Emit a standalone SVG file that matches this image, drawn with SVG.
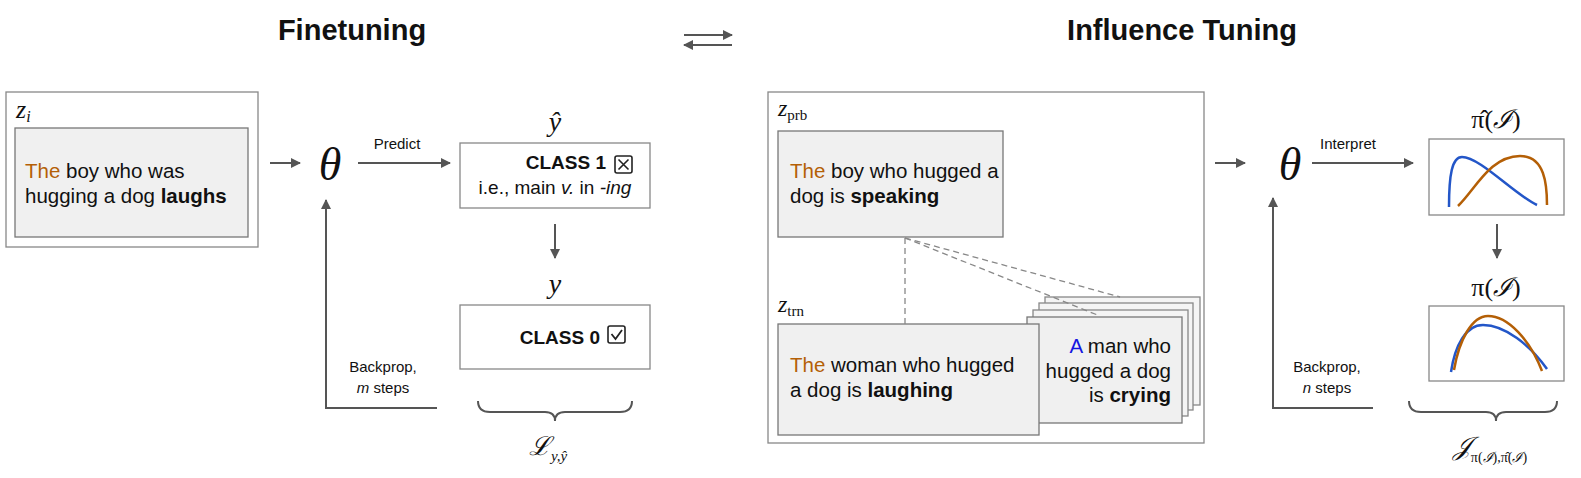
<svg xmlns="http://www.w3.org/2000/svg" width="1581" height="478" viewBox="0 0 1581 478">
<defs>
<marker id="ah" markerWidth="10" markerHeight="10" refX="9" refY="5" orient="auto" markerUnits="userSpaceOnUse"><path d="M0,0 L10,5 L0,10 z" fill="#555"/></marker>
<style>
.box{fill:#fff;stroke:#888;stroke-width:1.3}
.gbox{fill:#f0f0f0;stroke:#777;stroke-width:1.3}
.card{fill:#f4f4f4;stroke:#888;stroke-width:1.3}
.t{font-family:"Liberation Sans",Arial,sans-serif;font-size:20.5px;fill:#111}
.c{font-family:"Liberation Sans",Arial,sans-serif;font-size:19px;fill:#111}
.s{font-family:"Liberation Sans",Arial,sans-serif;font-size:15px;fill:#111}
.m{font-family:"Liberation Serif","DejaVu Serif",serif;font-style:italic;fill:#111}
.title{font-family:"Liberation Sans",Arial,sans-serif;font-size:29px;font-weight:bold;fill:#111}
.ln{stroke:#555;stroke-width:2;fill:none}
.br{fill:#b45f06}
.dash{stroke:#888;stroke-width:1.3;stroke-dasharray:6,4;fill:none}
</style>
</defs>
<text class="title" x="352" y="40" text-anchor="middle">Finetuning</text>
<text class="title" x="1182" y="40" text-anchor="middle">Influence Tuning</text>
<g id="swap" class="ln"><line x1="684" y1="35" x2="732" y2="35" marker-end="url(#ah)"/><line x1="732" y1="45" x2="684" y2="45" marker-end="url(#ah)"/></g>

<g id="zi">
<rect class="box" x="6" y="92" width="252" height="155"/>
<text class="m" x="16" y="118" font-size="26">z<tspan font-size="16" dy="4">i</tspan></text>
<rect class="gbox" x="15" y="128" width="233" height="109"/>
<text class="t" x="25" y="178"><tspan class="br">The</tspan> boy who was</text>
<text class="t" x="25" y="203">hugging a dog <tspan font-weight="bold">laughs</tspan></text>
</g>
<g id="theta1"><text class="m" x="330" y="180" font-size="46" text-anchor="middle">θ</text></g>
<g id="yhat">
<text class="m" x="555" y="131" font-size="28" text-anchor="middle">ŷ</text>
<rect class="box" x="460" y="143" width="190" height="65"/>
<text class="c" x="606" y="169" text-anchor="end" font-weight="bold">CLASS 1</text>
<rect x="615" y="156" width="17" height="17" rx="2" fill="none" stroke="#222" stroke-width="1.6"/>
<path d="M618.5,159.5 L628.5,169.5 M628.5,159.5 L618.5,169.5" stroke="#222" stroke-width="1.6"/>
<text class="c" x="555" y="194" text-anchor="middle">i.e., main <tspan font-style="italic">v.</tspan> in <tspan font-style="italic">-ing</tspan></text>
</g>
<g id="y">
<text class="m" x="555" y="293" font-size="28" text-anchor="middle">y</text>
<rect class="box" x="460" y="305" width="190" height="64"/>
<text class="c" x="600" y="344" text-anchor="end" font-weight="bold">CLASS 0</text>
<rect x="608" y="326" width="17" height="17" rx="2" fill="none" stroke="#222" stroke-width="1.6"/>
<path d="M611.5,334 L615.5,339 L622,330" stroke="#222" stroke-width="1.8" fill="none"/>
</g>
<g id="loss">
<path class="ln" d="M478,401 Q478,412 490,412 L545,412 Q555,412 555,421 Q555,412 565,412 L620,412 Q632,412 632,401" stroke-width="1.6"/>
<text class="m" x="548" y="455" font-size="26" text-anchor="middle">ℒ<tspan font-size="15" dy="6">y,ŷ</tspan></text>
</g>

<g id="zprbOuter">
<rect class="box" x="768" y="92" width="436" height="351"/>
<text class="m" x="778" y="116" font-size="24">z<tspan font-style="normal" font-size="15" dy="4">prb</tspan></text>
<text class="m" x="778" y="312" font-size="24">z<tspan font-style="normal" font-size="15" dy="4">trn</tspan></text>
</g>
<g id="stack">
<rect class="card" x="1045" y="297" width="155" height="108"/>
<rect class="card" x="1039" y="303" width="154" height="107"/>
<rect class="card" x="1033" y="310" width="155" height="106"/>
<rect class="gbox" x="1027" y="317" width="155" height="106"/>
<text class="t" x="1171" y="353" text-anchor="end"><tspan fill="#1515e0">A</tspan> man who</text>
<text class="t" x="1171" y="378" text-anchor="end">hugged a dog</text>
<text class="t" x="1171" y="402" text-anchor="end">is <tspan font-weight="bold">crying</tspan></text>
</g>
<g id="zprb">
<rect class="gbox" x="778" y="131" width="225" height="106"/>
<text class="t" x="790" y="178"><tspan class="br">The</tspan> boy who hugged a</text>
<text class="t" x="790" y="203">dog is <tspan font-weight="bold">speaking</tspan></text>
</g>
<g id="ztrn">
<rect class="gbox" x="778" y="324" width="261" height="111"/>
<text class="t" x="790" y="372"><tspan class="br">The</tspan> woman who hugged</text>
<text class="t" x="790" y="397">a dog is <tspan font-weight="bold">laughing</tspan></text>
</g>
<g id="dashes">
<line class="dash" x1="905" y1="238" x2="905" y2="324"/>
<line class="dash" x1="905" y1="238" x2="1100" y2="316"/>
<line class="dash" x1="905" y1="238" x2="1120" y2="297"/>
</g>
<g id="theta2"><text class="m" x="1290" y="180" font-size="46" text-anchor="middle">θ</text></g>
<g id="pihat">
<text class="m" x="1496" y="128" font-size="26" text-anchor="middle"><tspan font-style="normal">π̂</tspan><tspan font-style="normal">(</tspan>ℐ<tspan font-style="normal">)</tspan></text>
<rect class="box" x="1429" y="139" width="135" height="76"/>
<path d="M1449,207 C1449,175 1452,157 1462,157 C1480,157 1515,195 1537,205" fill="none" stroke="#2356c8" stroke-width="2.5"/>
<path d="M1458,206 C1475,190 1490,156 1520,156 C1545,156 1547,185 1547,205" fill="none" stroke="#b45f06" stroke-width="2.5"/>
</g>
<g id="pi">
<text class="m" x="1496" y="296" font-size="26" text-anchor="middle"><tspan font-style="normal">π(</tspan>ℐ<tspan font-style="normal">)</tspan></text>
<rect class="box" x="1429" y="306" width="135" height="75"/>
<path d="M1451,372 C1455,345 1466,325 1483,325 C1505,325 1530,345 1547,369" fill="none" stroke="#2356c8" stroke-width="2.5"/>
<path d="M1454,370 C1459,340 1472,316 1488,316 C1508,316 1530,340 1542,371" fill="none" stroke="#b45f06" stroke-width="2.5"/>
</g>
<g id="obj">
<path class="ln" d="M1409,401 Q1409,412 1421,412 L1486,412 Q1496,412 1496,421 Q1496,412 1506,412 L1545,412 Q1557,412 1557,401" stroke-width="1.6"/>
<text class="m" x="1490" y="455" font-size="26" text-anchor="middle">𝒥<tspan font-size="14" dy="7"><tspan font-style="normal">π(</tspan>ℐ<tspan font-style="normal">),π̂(</tspan>ℐ<tspan font-style="normal">)</tspan></tspan></text>
</g>

<g id="connectors">
<line class="ln" x1="270" y1="163" x2="300" y2="163" marker-end="url(#ah)"/>
<line class="ln" x1="358" y1="163" x2="450" y2="163" marker-end="url(#ah)"/>
<text class="s" x="397" y="149" text-anchor="middle">Predict</text>
<line class="ln" x1="555" y1="224" x2="555" y2="258" marker-end="url(#ah)"/>
<polyline class="ln" points="437,408 326,408 326,200" marker-end="url(#ah)"/>
<text class="s" x="383" y="372" text-anchor="middle">Backprop,</text>
<text class="s" x="383" y="393" text-anchor="middle"><tspan font-style="italic">m</tspan> steps</text>
<line class="ln" x1="1215" y1="163" x2="1245" y2="163" marker-end="url(#ah)"/>
<line class="ln" x1="1312" y1="163" x2="1413" y2="163" marker-end="url(#ah)"/>
<text class="s" x="1348" y="149" text-anchor="middle">Interpret</text>
<line class="ln" x1="1497" y1="224" x2="1497" y2="258" marker-end="url(#ah)"/>
<polyline class="ln" points="1373,408 1273,408 1273,198" marker-end="url(#ah)"/>
<text class="s" x="1327" y="372" text-anchor="middle">Backprop,</text>
<text class="s" x="1327" y="393" text-anchor="middle"><tspan font-style="italic">n</tspan> steps</text>
</g>
</svg>
